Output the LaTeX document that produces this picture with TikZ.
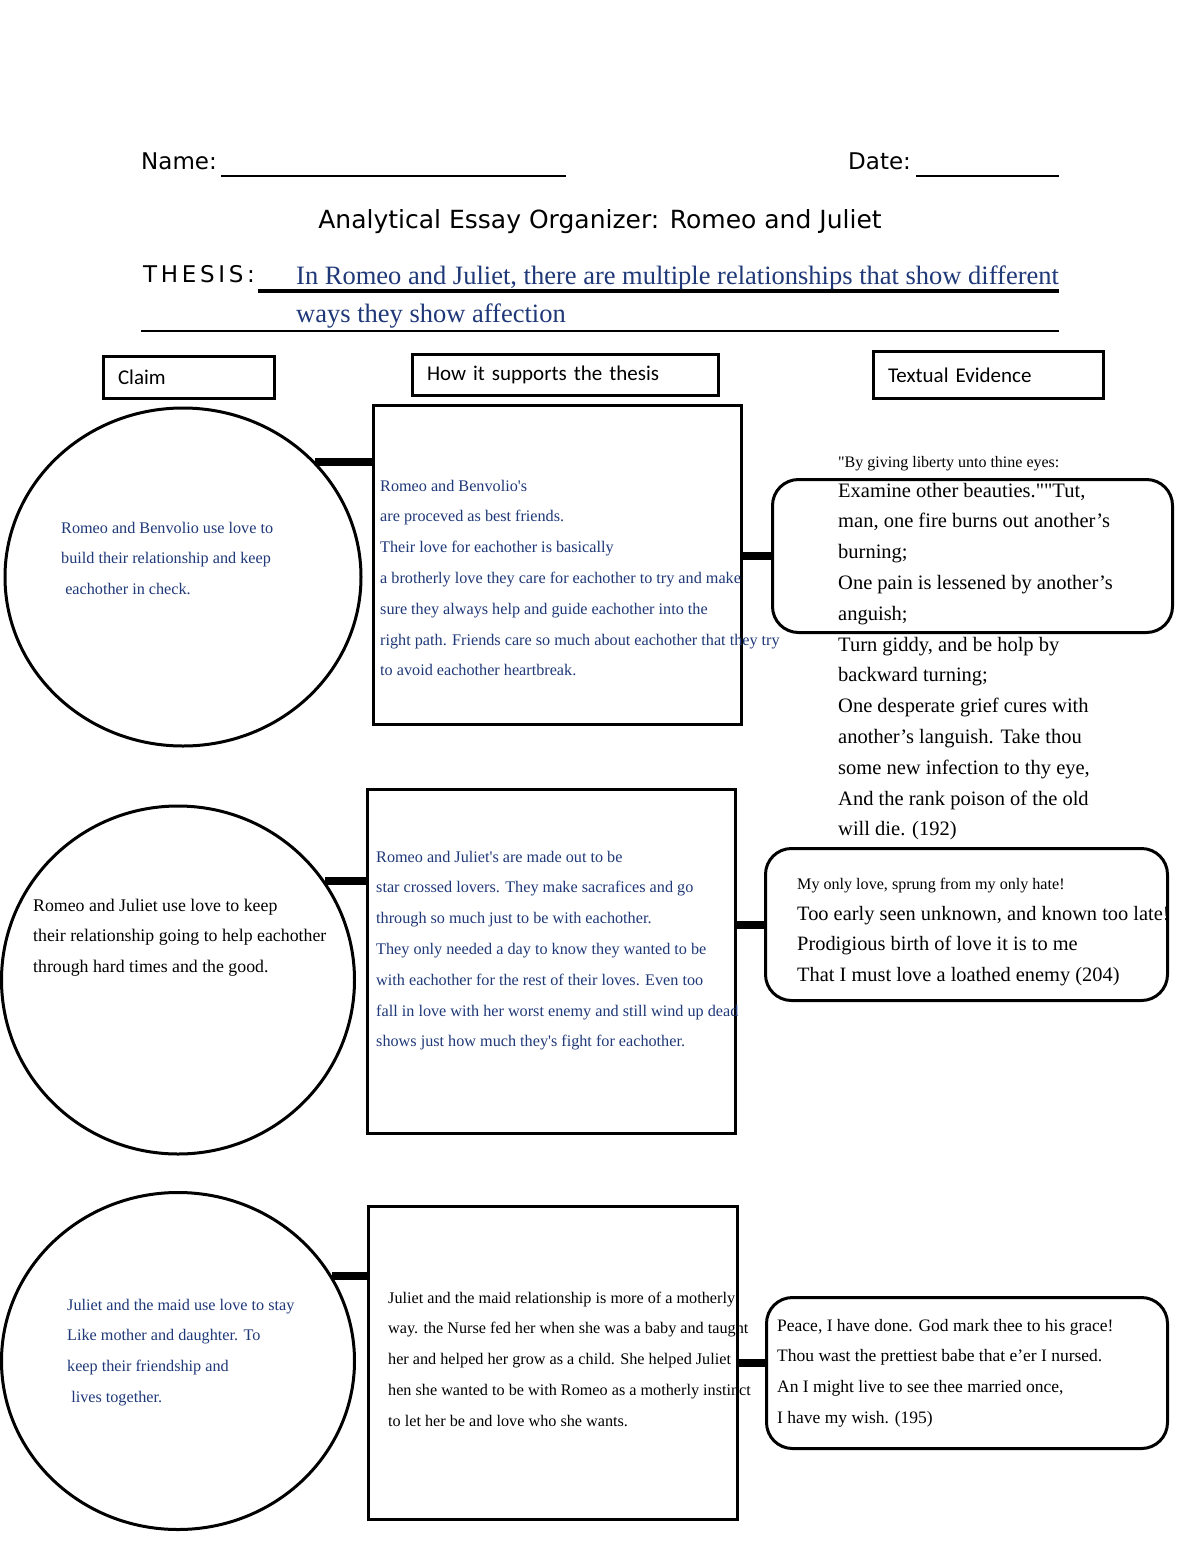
\documentclass[tikz,border=0pt]{standalone}
\usepackage{fontspec}
\setmainfont[Ligatures=TeXOff]{Liberation Serif}
\newfontfamily\headfont{DejaVu Sans}
\newfontfamily\boxfont{Carlito}
\usetikzlibrary{shapes.geometric}
\definecolor{inkblue}{RGB}{31,56,120}
\tikzset{
  claim/.style={draw, ellipse, line width=3pt, inner sep=0pt},
  support/.style={draw, rectangle, line width=2.5pt, anchor=north west, inner sep=0pt},
  evidence/.style={draw, rectangle, rounded corners=26pt, line width=3pt, anchor=north west, inner sep=0pt},
  headbox/.style={draw, line width=3pt, inner xsep=14.5pt, align=left, anchor=north west,
    font=\boxfont\fontsize{21}{24}\selectfont},
  headtext/.style={anchor=base west, inner sep=0pt, font=\headfont\fontsize{23}{26}\selectfont},
  link/.style={line width=8pt},
  rule/.style={line width=2.5pt},
  lineblue/.style={anchor=base west, inner sep=0pt, text=inkblue, font=\fontsize{16.2}{18}\selectfont},
  lineblack/.style={anchor=base west, inner sep=0pt, font=\fontsize{16.2}{18}\selectfont},
}
\begin{document}
\begin{tikzpicture}[x=1pt,y=-1pt]
\fill[white] (0,0) rectangle (1200,1553);
\useasboundingbox (0,0) rectangle (1200,1553);

% heading
\node[headtext] (nameLbl) at (141,169) {Name:};
\node[headtext] (dateLbl) at (848,169) {Date:};
\node[headtext, anchor=base, font=\headfont\fontsize{25}{28}\selectfont] (title) at (600,228) {Analytical Essay Organizer: Romeo and Juliet};
\node[headtext, font=\headfont\fontsize{23}{26}\addfontfeature{LetterSpace=16}\selectfont] (thesisLbl) at (143,282) {THESIS:};
\node[lineblue, font=\fontsize{26.5}{30}\selectfont] (thesisA) at (296,284) {In Romeo and Juliet, there are multiple relationships that show different};
\node[lineblue, font=\fontsize{26.5}{30}\selectfont] (thesisB) at (296,322) {ways they show affection};
\draw[rule] (221,176) -- (566,176);
\draw[rule] (916,176) -- (1059,176);
\draw[line width=4pt] (258,291) -- (1059,291);
\draw[rule] (141,331) -- (1059,331);

% column heads
\node[headbox, text width=142pt, minimum height=42pt] (claimHd) at (102,355) {Claim};
\node[headbox, text width=277pt, minimum height=41pt] (supportHd) at (411,353) {How it supports the thesis};
\node[headbox, text width=201pt, minimum height=47pt] (evidenceHd) at (872,350) {Textual Evidence};

% shapes
\node[claim, minimum width=356pt, minimum height=338pt] (claimA) at (183,577) {};
\node[claim, minimum width=353pt, minimum height=348pt] (claimB) at (178,980) {};
\node[claim, minimum width=353pt, minimum height=337pt] (claimC) at (178,1361) {};
\node[support, minimum width=368pt, minimum height=319pt] (supA) at (372,404) {};
\node[support, minimum width=368pt, minimum height=344pt] (supB) at (366,788) {};
\node[support, minimum width=369pt, minimum height=313pt] (supC) at (367,1205) {};
\node[evidence, minimum width=400pt, minimum height=153pt] (evA) at (771,478) {};
\node[evidence, minimum width=402pt, minimum height=152pt] (evB) at (764,847) {};
\node[evidence, minimum width=401pt, minimum height=151pt] (evC) at (765,1296) {};

% links
\draw[link] (claimA.41) -- (claimA.41 -| supA.west);
\draw[link] (claimB.34) -- (claimB.34 -| supB.west);
\draw[link] (claimC.29) -- (claimC.29 -| supC.west);
\draw[link] (evA.west) -- (evA.west -| supA.east);
\draw[link] (evB.west) -- (evB.west -| supB.east);
\draw[link] (supC.east) -- (supC.east -| evC.west);

% first row
\foreach \t [count=\i from 0] in {{Romeo and Benvolio use love to},{build their relationship and keep},{\ eachother in check.}}
  \node[lineblue] (claimAl\i) at (61,533+30.5*\i) {\t};
\foreach \t [count=\i from 0] in {{Romeo and Benvolio's},{are proceved as best friends.},{Their love for eachother is basically},
  {a brotherly love they care for eachother to try and make},{sure they always help and guide eachother into the},
  {right path. Friends care so much about eachother that they try},{to avoid eachother heartbreak.}}
  \node[lineblue] (supAl\i) at (380,491+30.8*\i) {\t};
\node[lineblack, font=\fontsize{16}{18}\selectfont] (evAl) at (838,467) {"By giving liberty unto thine eyes:};
\foreach \t [count=\i from 0] in {{Examine other beauties.""Tut,},{man, one fire burns out another’s},{burning;},
  {One pain is lessened by another’s},{anguish;},{Turn giddy, and be holp by},{backward turning;},
  {One desperate grief cures with},{another’s languish. Take thou},{some new infection to thy eye,},
  {And the rank poison of the old},{will die. (192)}}
  \node[lineblack, font=\fontsize{20.5}{22}\selectfont] (evAl\i) at (838,497+30.8*\i) {\t};

% second row
\foreach \t [count=\i from 0] in {{Romeo and Juliet use love to keep},{their relationship going to help eachother},{through hard times and the good.}}
  \node[lineblack, font=\fontsize{17.8}{20}\selectfont] (claimBl\i) at (33,911+30.5*\i) {\t};
\foreach \t [count=\i from 0] in {{Romeo and Juliet's are made out to be},{star crossed lovers. They make sacrafices and go},
  {through so much just to be with eachother.},{They only needed a day to know they wanted to be},
  {with eachother for the rest of their loves. Even too},{fall in love with her worst enemy and still wind up dead},
  {shows just how much they's fight for eachother.}}
  \node[lineblue] (supBl\i) at (376,862+30.8*\i) {\t};
\node[lineblack, font=\fontsize{16.1}{18}\selectfont] (evBl) at (797,889) {My only love, sprung from my only hate!};
\foreach \t [count=\i from 0] in {{Too early seen unknown, and known too late!},{Prodigious birth of love it is to me},
  {That I must love a loathed enemy (204)}}
  \node[lineblack, font=\fontsize{20.4}{22}\selectfont] (evBl\i) at (797,920+30.8*\i) {\t};

% third row
\foreach \t [count=\i from 0] in {{Juliet and the maid use love to stay},{Like mother and daughter. To},{keep their friendship and},{\ lives together.}}
  \node[lineblue] (claimCl\i) at (67,1310+30.7*\i) {\t};
\foreach \t [count=\i from 0] in {{Juliet and the maid relationship is more of a motherly},{way. the Nurse fed her when she was a baby and taught},
  {her and helped her grow as a child. She helped Juliet},{hen she wanted to be with Romeo as a motherly instinct},
  {to let her be and love who she wants.}}
  \node[lineblack] (supCl\i) at (388,1303+30.8*\i) {\t};
\foreach \t [count=\i from 0] in {{Peace, I have done. God mark thee to his grace!},{Thou wast the prettiest babe that e’er I nursed.},
  {An I might live to see thee married once,},{I have my wish. (195)}}
  \node[lineblack, font=\fontsize{17.5}{20}\selectfont] (evCl\i) at (777,1331+30.7*\i) {\t};
\end{tikzpicture}
\end{document}
